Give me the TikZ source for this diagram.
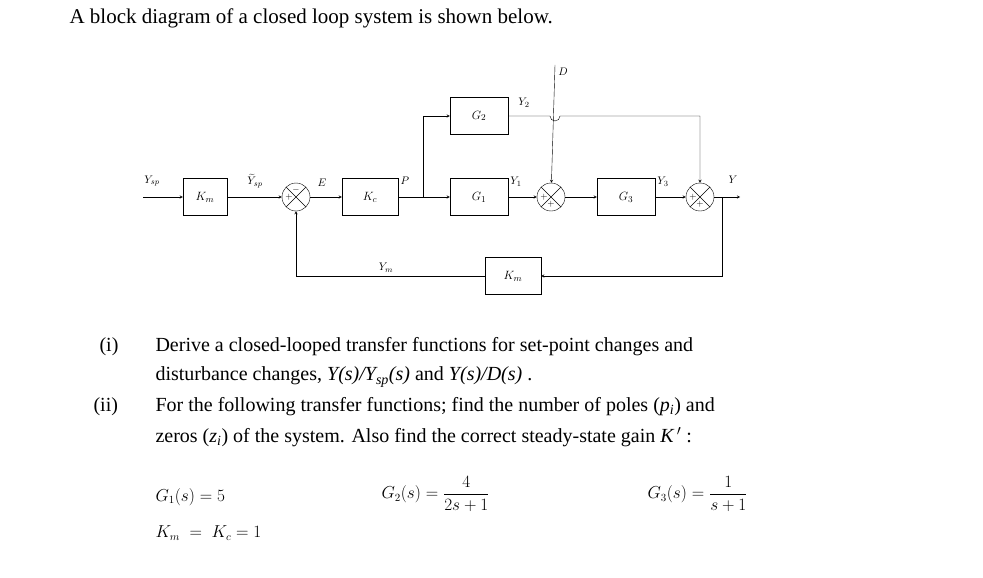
\documentclass[tikz,border=0pt]{standalone}
\usepackage{fontspec}
\setmainfont{Liberation Serif}
\usetikzlibrary{arrows, positioning, shapes}
\tikzstyle{block} = [% transfer function block
  rectangle,
  minimum width=56,
  minimum height=37,
  draw=black,
  font=\fontsize{13}{15}\selectfont
  ]
\tikzstyle{sum} = [% summing junction
  circle,
  minimum size=28,
  inner sep=0pt,
  draw=black,
  path picture={\draw (path picture bounding box.north west) -- (path picture bounding box.south east)
    (path picture bounding box.north east) -- (path picture bounding box.south west);}
  ]
\tikzstyle{sig} = [% signal label
  font=\fontsize{11}{13}\selectfont\itshape
  ]
\tikzstyle{sgn} = [% sign at a junction
  font=\fontsize{9}{10}\selectfont, inner sep=0pt
  ]
\tikzstyle{arrow} = [% arrow format
  ->,
  >=stealth
  ]
\begin{document}
\begin{tikzpicture}[x=1pt, y=-1pt]
\useasboundingbox (0,0) rectangle (983,578);

%%% Nodes
\node[anchor=west, font=\fontsize{21}{24}\selectfont] (title) at (66,18) {A block diagram of a closed loop system is shown below.};
\coordinate (in) at (143,197);
\node[block, minimum width=44] (km) at (205,197) {$K_m$};
\node[sum] (s1) at (296,197) {};
\node[block] (kc) at (370,197) {$K_c$};
\node[block, minimum width=58] (g1) at (479,197) {$G_1$};
\node[block, minimum width=58] (g2) at (479,116) {$G_2$};
\node[sum] (s2) at (551,197) {};
\node[block, minimum width=58] (g3) at (626,197) {$G_3$};
\node[sum] (s3) at (700,197) {};
\node[block] (km2) at (513,276) {$K_m$};
\coordinate (out) at (740,197);
\coordinate (tap) at (722,197);
\coordinate (split) at (423,197);
\coordinate (dist) at (555,65);

%%% Signs
\node[sgn] at ([xshift=-7]s1.center) {$+$};
\node[sgn] at ([yshift=7]s1.center) {$-$};
\node[sgn] at ([xshift=-7]s2.center) {$+$};
\node[sgn] at ([yshift=-7]s2.center) {$+$};
\node[sgn] at ([xshift=-7]s3.center) {$+$};
\node[sgn] at ([yshift=-7]s3.center) {$+$};

%%% Signals
\node[sig] at (152,181) {$Y_{sp}$};
\node[sig] at (255,181) {$\widetilde{Y}_{sp}$};
\node[sig] at (322,183) {$E$};
\node[sig] at (405,181) {$P$};
\node[sig] at (516,182) {$Y_1$};
\node[sig] at (524,103) {$Y_2$};
\node[sig] at (563,72) {$D$};
\node[sig] at (663,182) {$Y_3$};
\node[sig] at (733,180) {$Y$};
\node[sig] at (386,268) {$Y_m$};

%%% Connectors
\draw[arrow] (in) -- (km);
\draw[arrow] (km) -- (s1);
\draw[arrow] (s1) -- (kc);
\draw[arrow] (kc) -- (g1);
\draw[arrow] (split) |- (g2);
\draw[arrow] (g1) -- (s2);
\draw[arrow] (dist) -- (s2);
\draw[arrow] (s2) -- (g3);
\draw[arrow] (g3) -- (s3);
\draw[arrow] (g2.east) -- ([xshift=-5]dist |- g2) arc (180:0:5) -| (s3);
\draw[arrow] (s3) -- (out);
\draw[arrow] (tap) |- (km2);
\draw[arrow] (km2) -| (s1);

%%% Questions
\begin{scope}[every node/.style={anchor=west, font=\fontsize{20}{24}\selectfont}]
\node (q1) at (96,347) {(i)};
\node (q1a) at (152,347) {Derive a closed-looped transfer functions for set-point changes and};
\node (q1b) at (152,377) {disturbance changes, \textit{Y(s)/Y\textsubscript{sp}(s)} and \textit{Y(s)/D(s)} .};
\node (q2) at (90,407) {(ii)};
\node (q2a) at (152,407) {For the following transfer functions; find the number of poles (\textit{p\textsubscript{i}}) and};
\node (q2b) at (152,437) {zeros (\textit{z\textsubscript{i}}) of the system. Also find the correct steady-state gain \textit{K\,$'$} :};
\end{scope}
\begin{scope}[every node/.style={anchor=west, font=\fontsize{16}{19}\selectfont}]
\node (e1) at (152,497) {$G_1(s) = 5$};
\node (e2) at (152,533) {$K_m \;=\; K_c = 1$};
\node (e3) at (378,494) {$G_2(s) = \displaystyle\frac{4}{2s+1}$};
\node (e4) at (644,494) {$G_3(s) = \displaystyle\frac{1}{s+1}$};
\end{scope}

\end{tikzpicture}
\end{document}
